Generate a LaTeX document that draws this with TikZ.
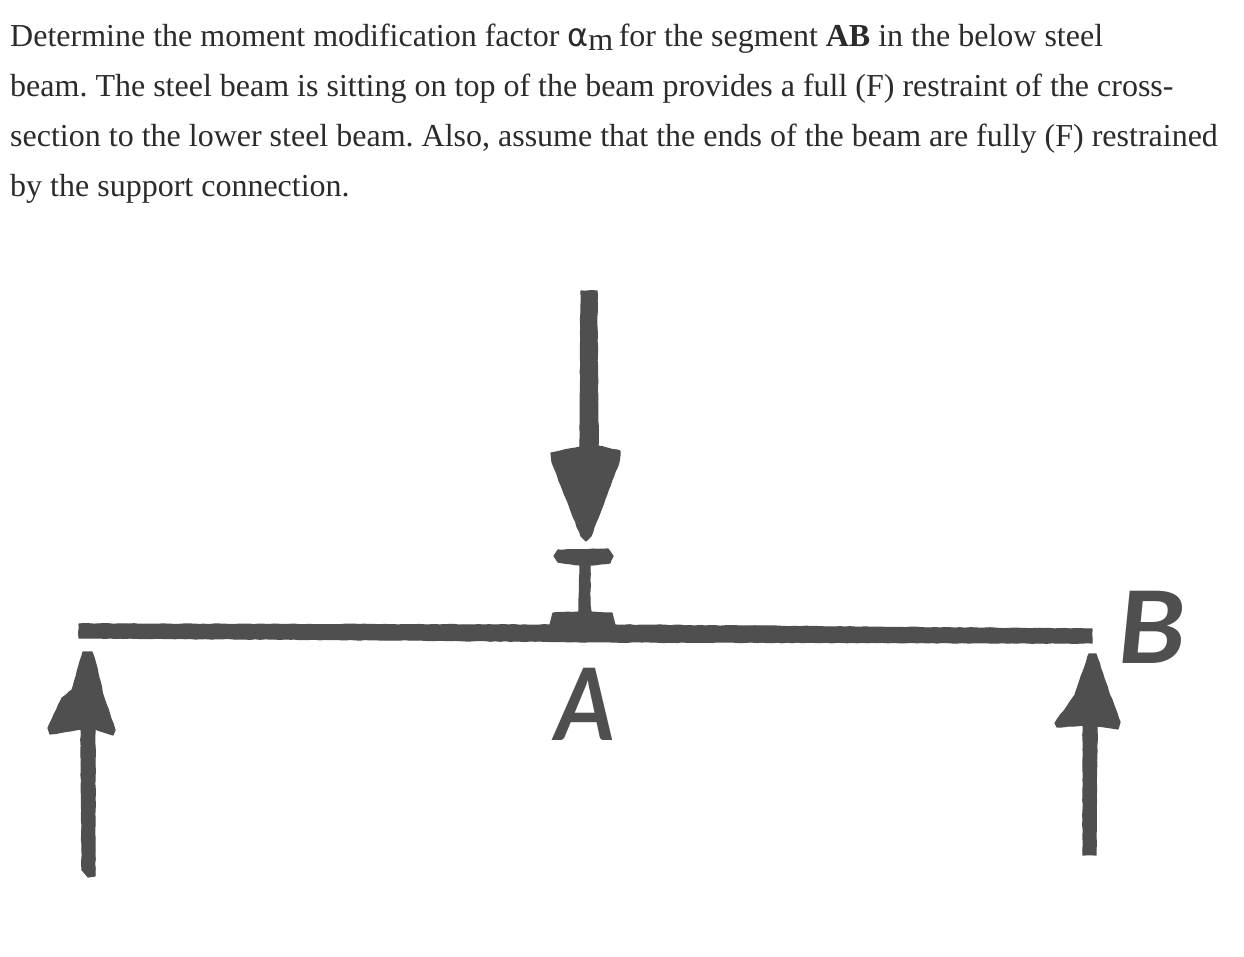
\documentclass[tikz,border=0pt]{standalone}
\usepackage{fontspec}
\setmainfont{Liberation Serif}
\newfontfamily\alphafont{DejaVu Sans}
\newfontfamily\handfont{Lato}
\usetikzlibrary{decorations.pathmorphing}
\definecolor{ink}{HTML}{4F4F4F}
\definecolor{txt}{HTML}{2B2B2B}
\frenchspacing
\tikzset{
  prose/.style={anchor=base west,inner sep=0pt,text=txt,font=\fontsize{32}{40}\selectfont},
  marker/.style={fill=ink,draw=ink,line width=1.2pt,line join=round,
    decorate,decoration={random steps,segment length=5pt,amplitude=0.35pt}},
  hand/.style={inner sep=0pt,text=ink,font=\handfont\bfseries\fontsize{100}{100}\selectfont,transform shape}
}
\begin{document}
\begin{tikzpicture}[x=1pt,y=-1pt]
\useasboundingbox (0,0) rectangle (1244,956);
\node[prose] (l1) at (10,46.5) {Determine the moment modification factor {\alphafont α}\raisebox{-4pt}{m}\kern-2.5pt{} for the segment \textbf{AB} in the below steel};
\node[prose] (l2) at (10,96.5) {beam. The steel beam is sitting on top of the beam provides a full (F) restraint of the cross-};
\node[prose] (l3) at (10,146.5) {section to the lower steel beam. Also, assume that the ends of the beam are fully (F) restrained};
\node[prose] (l4) at (10,196.5) {by the support connection.};
% load arrow
\path[marker] (581,291) -- (597,291) -- (598,446) -- (620,451) -- (619,462) -- (591,536) -- (586,541) -- (581,536) -- (552,462) -- (551,453) -- (580,447) -- cycle;
% I section and beam
\path[marker] (558,550) -- (608,549) -- (613,556) -- (610,563) -- (590,565) -- (590,605) -- (591,612) -- (612,613) -- (615,625) -- (1092,629) -- (1092,643) -- (615,642) -- (400,640) -- (79,638) -- (79,624) -- (550,625) -- (553,613) -- (579,612) -- (580,565) -- (558,562) -- (554,556) -- cycle;
% left reaction
\path[marker] (83,652) -- (92,652) -- (97,668) -- (103,695) -- (115,730) -- (113,735) -- (95,729) -- (95,876) -- (88,877) -- (82,870) -- (81,729) -- (50,734) -- (48,728) -- (62,698) -- (72,690) -- cycle;
% right reaction
\path[marker] (1089,654) -- (1096,654) -- (1108,690) -- (1120,722) -- (1118,729) -- (1097,726) -- (1096,855) -- (1083,855) -- (1083,725) -- (1057,727) -- (1055,723) -- (1075,695) -- cycle;
\node[hand,xslant=0.1,xscale=0.86] (A) at (586,704) {A};
\node[hand,xslant=0.1,xscale=1.05] (B) at (1153,627) {B};
\end{tikzpicture}
\end{document}
